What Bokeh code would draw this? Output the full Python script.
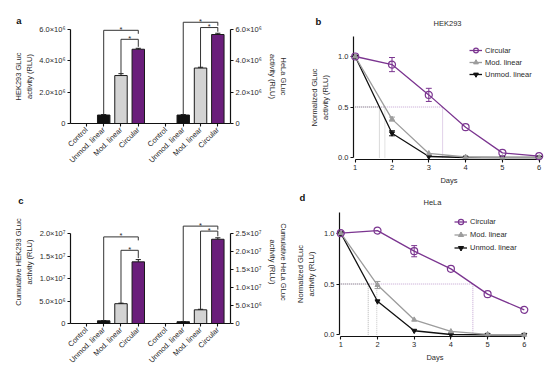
import numpy as np
from bokeh.plotting import figure
from bokeh.models import Range1d, LinearAxis, FixedTicker, Legend, LegendItem
from bokeh.layouts import column, row
from bokeh.embed import file_html
from bokeh.resources import INLINE
from bokeh.core.properties import value

# ---------------- data ----------------
categories = ["Control", "Unmod. linear", "Mod. linear", "Circular"]

# panel a: GLuc activity (RLU)
a_hek = [0, 0.54e6, 3.06e6, 4.74e6]
a_hek_err = [0, 0.03e6, 0.12e6, 0.06e6]
a_hela = [0, 0.54e6, 3.54e6, 5.68e6]
a_hela_err = [0, 0.03e6, 0.05e6, 0.08e6]
a_left_ticks = [0, 2e6, 4e6, 6e6]
a_left_labels = ["0", "2.0×10⁶", "4.0×10⁶", "6.0×10⁶"]
a_right_ticks = [0, 2e6, 4e6, 6e6]
a_right_labels = ["0", "2.0×10⁶", "4.0×10⁶", "6.0×10⁶"]

# panel c: cumulative GLuc activity (RLU)
c_hek = [0, 0.6e6, 4.4e6, 1.37e7]
c_hek_err = [0, 0.05e6, 0.12e6, 0.05e7]
c_hela = [0, 0.5e6, 3.8e6, 2.34e7]
c_hela_err = [0, 0.05e6, 0.15e6, 0.04e7]
c_left_ticks = [0, 5e6, 1e7, 1.5e7, 2e7]
c_left_labels = ["0", "5.0×10⁶", "1.0×10⁷", "1.5×10⁷", "2.0×10⁷"]
c_right_ticks = [0, 5e6, 1e7, 1.5e7, 2e7, 2.5e7]
c_right_labels = ["0", "5.0×10⁶", "1.0×10⁷", "1.5×10⁷", "2.0×10⁷", "2.5×10⁷"]

# panels b, d: normalized GLuc activity over days
days = [1, 2, 3, 4, 5, 6]
b_circ = [1.0, 0.92, 0.62, 0.30, 0.046, 0.013]
b_circ_err = [0, 0.07, 0.065, 0.01, 0.008, 0.004]
b_mod = [1.0, 0.38, 0.04, 0.005, 0.0, 0.0]
b_mod_err = [0, 0.02, 0.01, 0, 0, 0]
b_unmod = [1.0, 0.24, 0.01, 0.0, 0.0, 0.0]
b_unmod_err = [0, 0.025, 0.005, 0, 0, 0]

d_circ = [1.0, 1.026, 0.823, 0.649, 0.40, 0.246]
d_circ_err = [0, 0.01, 0.055, 0.01, 0.012, 0.01]
d_mod = [1.0, 0.49, 0.148, 0.033, 0.005, 0.0]
d_mod_err = [0, 0.035, 0.01, 0.005, 0, 0]
d_unmod = [1.0, 0.33, 0.04, 0.003, 0.0, 0.0]
d_unmod_err = [0, 0.012, 0.005, 0, 0, 0]

days_ticks = [1, 2, 3, 4, 5, 6]
norm_ticks = [0, 0.5, 1.0]
norm_labels = ["0.0", "0.5", "1.0"]

# ---------------- style ----------------
FONT = "Liberation Sans"
TXT = "#2a2a2a"
PURPLE_BAR = "#6a1e7b"
PURPLE_LINE = "#7b3590"
PURPLE_DOT = "#b48cc6"
GRAY_BAR = "#d3d3d3"
GRAY_LINE = "#9c9c9c"
BLACK = "#111111"
bar_colors = ["white", BLACK, GRAY_BAR, PURPLE_BAR]
FS = "7.5px"


def new_fig(W, H, xr, yr, bl, br, bt, bb):
    p = figure(width=W, height=H, x_range=xr, y_range=yr, output_backend="svg",
               toolbar_location=None, min_border_left=bl, min_border_right=br,
               min_border_top=bt, min_border_bottom=bb, frame_align=False)
    p.grid.visible = False
    p.outline_line_color = None
    return p


def style_axis(ax, standoff=5):
    ax.axis_line_color = "#111111"
    ax.axis_line_width = 1.2
    ax.major_tick_line_color = "#111111"
    ax.major_tick_line_width = 1.1
    ax.major_tick_in = 0
    ax.major_tick_out = 3
    ax.minor_tick_line_color = None
    ax.major_label_text_font = FONT
    ax.major_label_text_font_size = FS
    ax.major_label_text_color = TXT
    ax.major_label_standoff = 2
    ax.axis_label_text_font = FONT
    ax.axis_label_text_font_size = FS
    ax.axis_label_text_font_style = "normal"
    ax.axis_label_text_color = TXT
    ax.axis_label_standoff = standoff


def free_text(p, txt, x, y, size=FS, bold=False, align="center"):
    # unclipped text (overlay level), positioned in data space of the figure
    p.text(x=[x], y=[y], text=[txt], text_font=value(FONT), text_font_size=size,
           text_font_style="bold" if bold else "normal",
           text_color="#111111" if bold else TXT,
           text_align=align, text_baseline="middle", level="overlay")


SLOT_PX = 17.4
RIGHT_OFFSET = 4.6


def bar_panel(W, H, bl, br, bt, bb, axis_px, left, right, letter, letter_xy):
    fw = W - bl - br
    fh = H - bt - bb
    x_start = -0.92
    l_end = left["ticks"][-1] * fh / axis_px
    r_end = right["ticks"][-1] * fh / axis_px
    p = new_fig(W, H, Range1d(x_start, x_start + fw / SLOT_PX), Range1d(0, l_end), bl, br, bt, bb)
    p.extra_y_ranges = {"r": Range1d(0, r_end)}
    xs_l = np.arange(4, dtype=float)
    xs_r = xs_l + RIGHT_OFFSET
    for grp, xs, rn, end in ((left, xs_l, "default", l_end), (right, xs_r, "r", r_end)):
        per_px = end / fh
        vals, errs = grp["vals"], grp["errs"]
        p.vbar(x=list(xs), top=vals, width=0.72, fill_color=bar_colors, line_color="#1a1a1a",
               line_width=1, y_range_name=rn)
        ex0, ey0, ex1, ey1 = [], [], [], []
        for x, v, e in zip(xs, vals, errs):
            if e <= 0:
                continue
            ex0 += [x, x - 0.15]
            ey0 += [v, v + e]
            ex1 += [x, x + 0.15]
            ey1 += [v + e, v + e]
        p.segment(ex0, ey0, ex1, ey1, line_color="#1a1a1a", line_width=1, y_range_name=rn)
        circ_top = vals[3] + errs[3]
        g_in, g_out = grp["gaps"]
        inner_y = circ_top + g_in * per_px
        outer_y = circ_top + g_out * per_px
        p.line([xs[1], xs[1], xs[3], xs[3]], [vals[1] + errs[1], outer_y, outer_y, outer_y - 3.5 * per_px],
               line_color="#333333", line_width=1, y_range_name=rn, level="overlay")
        p.line([xs[2], xs[2], xs[3], xs[3]], [vals[2] + errs[2], inner_y, inner_y, circ_top + 1.5 * per_px],
               line_color="#333333", line_width=1, y_range_name=rn, level="overlay")
        p.text(x=[(xs[1] + xs[3]) / 2, (xs[2] + xs[3]) / 2],
               y=[outer_y + 1.0 * per_px, inner_y + 1.0 * per_px], text=["*", "*"],
               text_font=value(FONT), text_font_size="7.5px", text_color=TXT,
               text_align="center", text_baseline="middle", y_range_name=rn, level="overlay")
    ticks = [float(v) for v in list(xs_l) + list(xs_r)]
    p.xaxis.ticker = FixedTicker(ticks=ticks)
    p.xaxis.major_label_overrides = {t: c for t, c in zip(ticks, categories + categories)}
    p.xaxis.major_label_orientation = np.pi / 4
    style_axis(p.xaxis[0])
    ly = p.yaxis[0]
    ly.ticker = FixedTicker(ticks=left["ticks"])
    ly.major_label_overrides = {t: s for t, s in zip(left["ticks"], left["labels"])}
    ly.bounds = (0, left["ticks"][-1])
    ly.axis_label = left["title"]
    style_axis(ly, standoff=2)
    ry = LinearAxis(y_range_name="r")
    ry.ticker = FixedTicker(ticks=right["ticks"])
    ry.major_label_overrides = {t: s for t, s in zip(right["ticks"], right["labels"])}
    ry.bounds = (0, right["ticks"][-1])
    ry.axis_label = right["title"]
    style_axis(ry, standoff=3)
    p.add_layout(ry, "right")
    cx, cy = letter_xy
    free_text(p, letter, x_start + (cx - bl) / SLOT_PX, (H - bb - cy) * l_end / fh, size="9.5px", bold=True)
    return p


def half_life(xs, ys):
    for i in range(len(ys) - 1):
        if ys[i] >= 0.5 > ys[i + 1]:
            return xs[i] + (ys[i] - 0.5) / (ys[i] - ys[i + 1])
    return None


def line_panel(W, H, bl, br, bt, bb, day_px, day1_off, unit_px, zero_off, series, title,
               title_xy, letter, letter_xy, legend_loc, item_h):
    fw = W - bl - br
    fh = H - bt - bb
    x0 = 1 - day1_off / day_px
    y0 = -zero_off / unit_px
    p = new_fig(W, H, Range1d(x0, x0 + fw / day_px), Range1d(y0, y0 + fh / unit_px), bl, br, bt, bb)
    for name, ys, errs, color, marker, msize, fill, dot in series:
        hl = half_life(days, ys)
        if hl is None:
            continue
        p.line([1, hl], [0.5, 0.5], line_color=dot, line_width=0.8, line_dash="1 1")
        p.line([hl, hl], [0, 0.5], line_color=dot, line_width=0.8, line_dash="1 1")
    items = {}
    for name, ys, errs, color, marker, msize, fill, dot in reversed(series):
        lr = p.line(days, ys, line_color=color, line_width=1.3)
        ex0, ey0, ex1, ey1 = [], [], [], []
        for x, v, e in zip(days, ys, errs):
            if e <= 0.015:
                continue
            ex0 += [x, x - 0.08, x - 0.08]
            ey0 += [v - e, v - e, v + e]
            ex1 += [x, x + 0.08, x + 0.08]
            ey1 += [v + e, v - e, v + e]
        if ex0:
            p.segment(ex0, ey0, ex1, ey1, line_color=color, line_width=1)
        if fill is None:
            mr = p.scatter(days, ys, marker=marker, size=msize, line_color=color, fill_alpha=0,
                           line_width=1.2, level="overlay")
        else:
            mr = p.scatter(days, ys, marker=marker, size=msize, line_color=color, fill_color=fill,
                           line_width=1, level="overlay")
        items[name] = [lr, mr]
    legend = Legend(items=[LegendItem(label=s[0], renderers=items[s[0]]) for s in series],
                    location=legend_loc, padding=0, margin=0, spacing=0,
                    label_height=item_h, glyph_height=item_h, glyph_width=13, label_standoff=3,
                    label_text_font=FONT, label_text_font_size=FS, label_text_color=TXT,
                    background_fill_alpha=0, border_line_color=None)
    p.add_layout(legend)
    xa = p.xaxis[0]
    xa.ticker = FixedTicker(ticks=days_ticks)
    xa.bounds = (1, 6)
    xa.axis_label = "Days"
    style_axis(xa, standoff=3)
    ya = p.yaxis[0]
    ya.ticker = FixedTicker(ticks=norm_ticks)
    ya.major_label_overrides = {t: s for t, s in zip(norm_ticks, norm_labels)}
    ya.bounds = (0, 1.2)
    ya.axis_label = "Normalized GLuc\nactivity (RLU)"
    style_axis(ya)

    def to_data(cx, cy):
        return x0 + (cx - bl) / day_px, y0 + (H - bb - cy) / unit_px

    free_text(p, title, *to_data(*title_xy))
    free_text(p, letter, *to_data(*letter_xy), size="9.5px", bold=True)
    return p


pa = bar_panel(290, 190, 70, 59, 29, 67, 94,
               dict(vals=a_hek, errs=a_hek_err, ticks=a_left_ticks, labels=a_left_labels,
                    title="HEK293 GLuc\nactivity (RLU)", gaps=(9, 18)),
               dict(vals=a_hela, errs=a_hela_err, ticks=a_right_ticks, labels=a_right_labels,
                    title="HeLa GLuc\nactivity (RLU)", gaps=(5.7, 11)),
               "a", (18, 20))

pc = bar_panel(290, 180, 70, 59, 10, 47, 90,
               dict(vals=c_hek, errs=c_hek_err, ticks=c_left_ticks, labels=c_left_labels,
                    title="Cumulative HEK293 GLuc\nactivity (RLU)", gaps=(9.3, 22.7)),
               dict(vals=c_hela, errs=c_hela_err, ticks=c_right_ticks, labels=c_right_labels,
                    title="Cumulative HeLa GLuc\nactivity (RLU)", gaps=(6.7, 11.7)),
               "c", (20, 10))

series_b = [
    ("Circular", b_circ, b_circ_err, PURPLE_LINE, "circle", 7, None, PURPLE_DOT),
    ("Mod. linear", b_mod, b_mod_err, GRAY_LINE, "triangle", 5, GRAY_LINE, "#b8b8b8"),
    ("Unmod. linear", b_unmod, b_unmod_err, BLACK, "inverted_triangle", 5, BLACK, "#a0a0a0"),
]
series_d = [
    ("Circular", d_circ, d_circ_err, PURPLE_LINE, "circle", 7, None, PURPLE_DOT),
    ("Mod. linear", d_mod, d_mod_err, GRAY_LINE, "triangle", 5, GRAY_LINE, "#b8b8b8"),
    ("Unmod. linear", d_unmod, d_unmod_err, BLACK, "inverted_triangle", 5, BLACK, "#a0a0a0"),
]

pb = line_panel(262, 190, 63, 8, 35, 31, 36.8, 1.7, 101, 2, series_b, "HEK293",
                (157, 23), "b", (28, 21), (116, 79), 12)
pd_ = line_panel(262, 180, 49, 22, 21, 34, 36.7, 1.3, 101.6, 1.7, series_d, "HeLa",
                 (142, 12), "d", (12, 7), (115, 82), 13)

layout = column(row(pa, pb), row(pc, pd_))
open("out.html", "w").write(file_html(layout, INLINE))
